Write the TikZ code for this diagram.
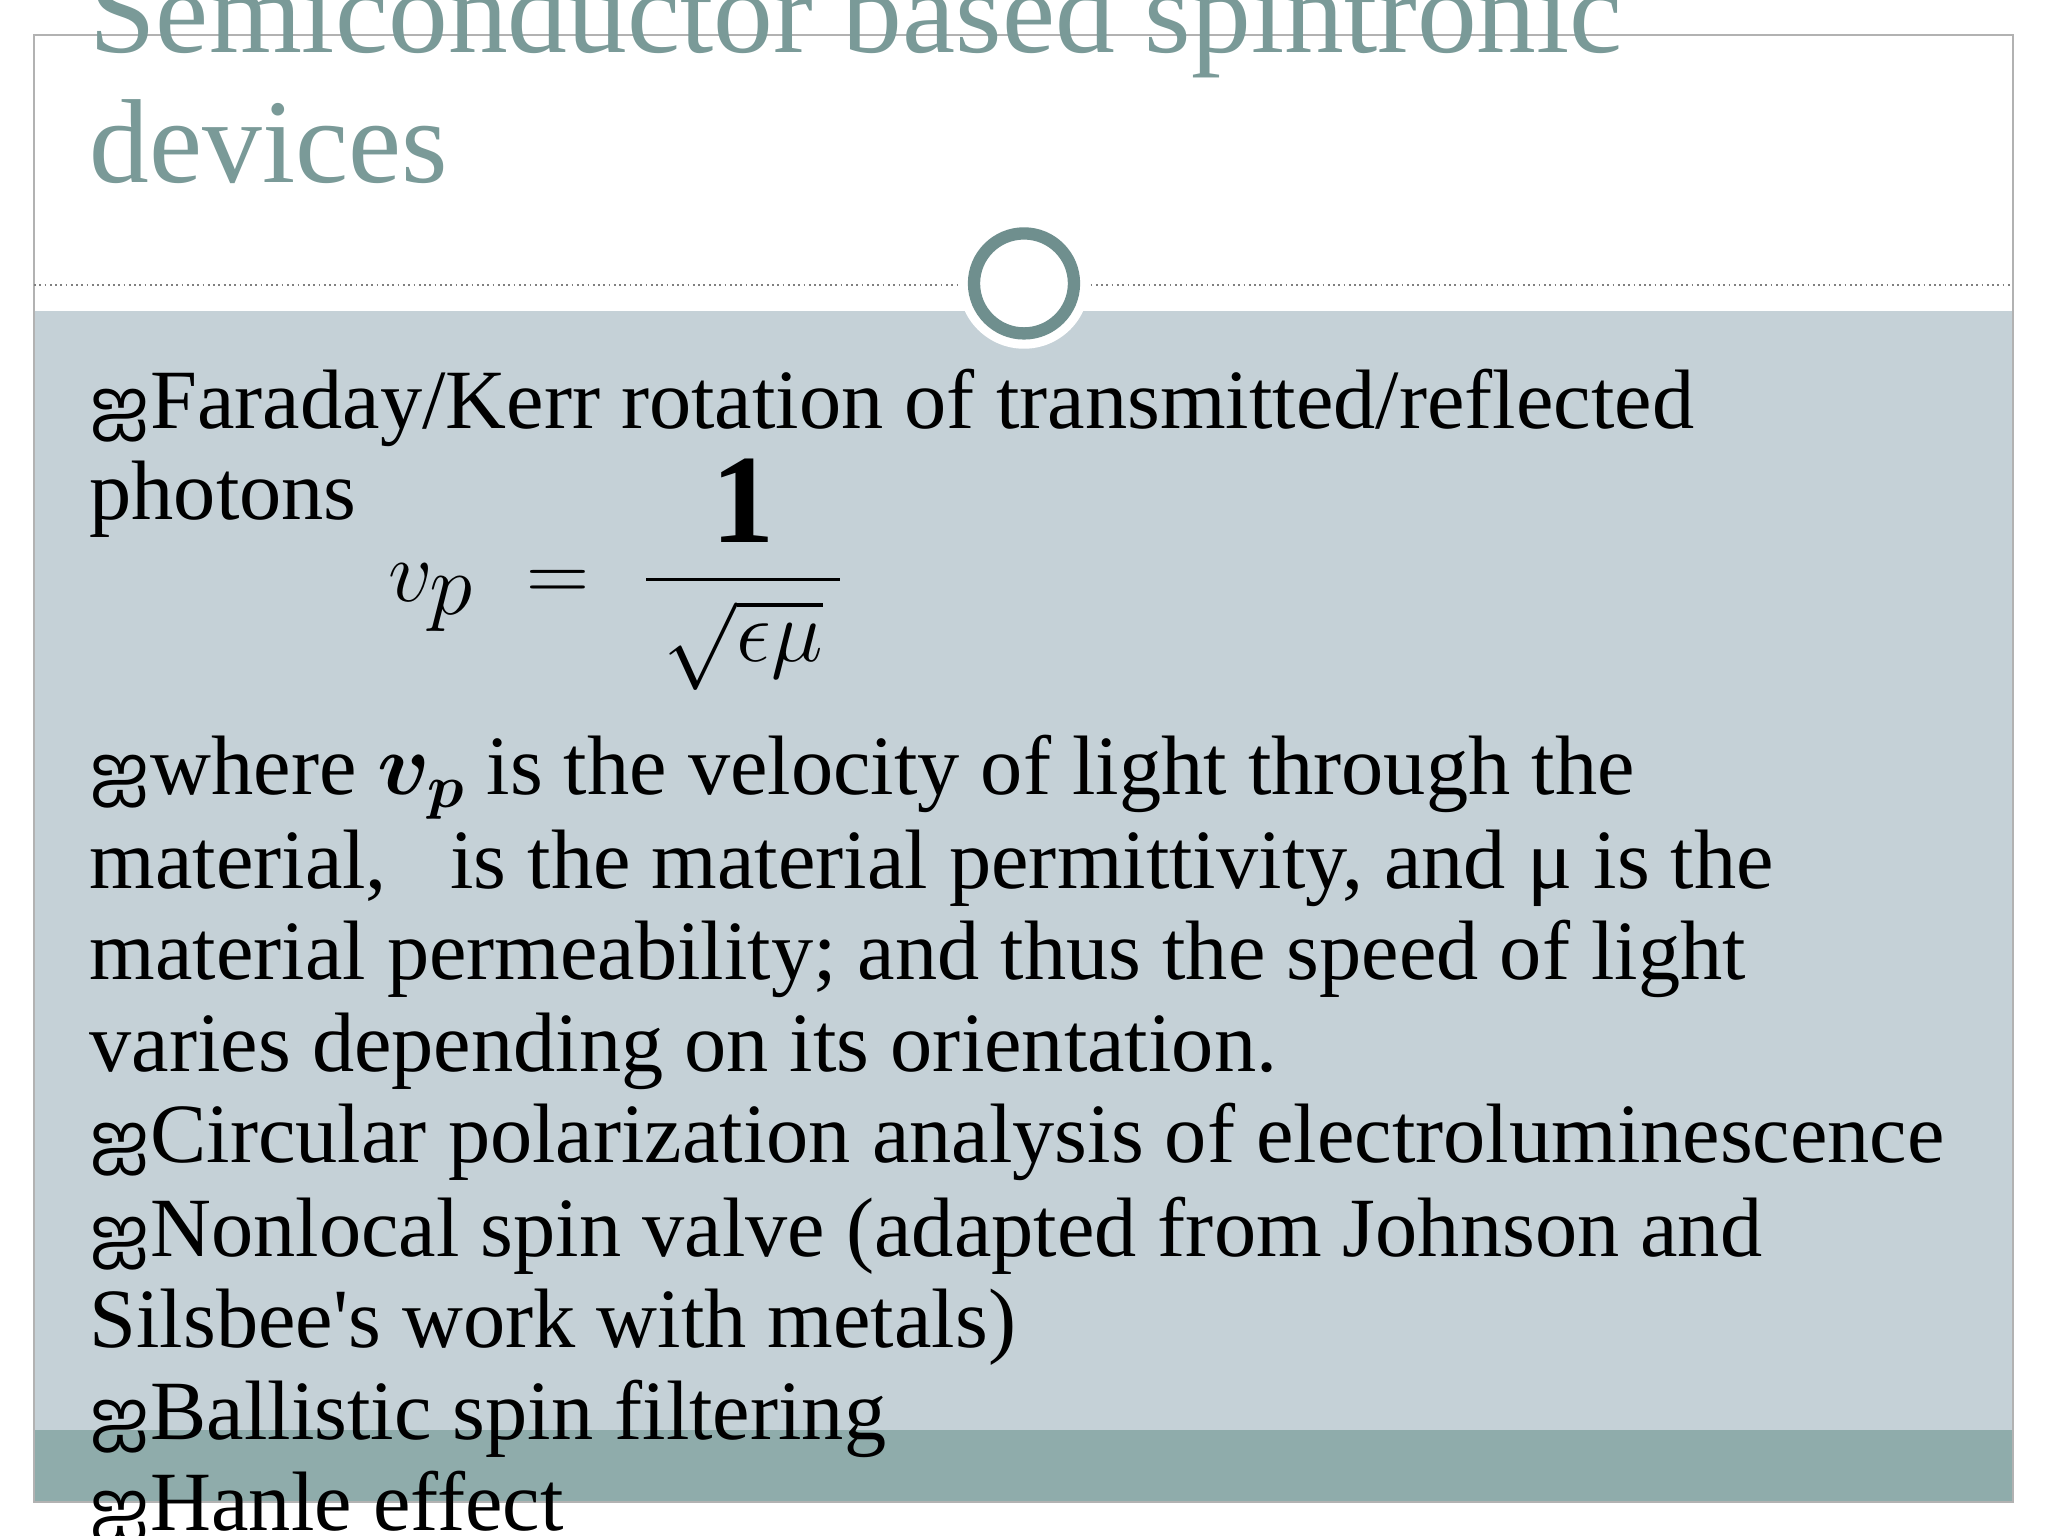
\documentclass[tikz,border=0pt]{standalone}
\usepackage{fontspec}
\usepackage{amsmath}
\usepackage{textcomp}
\setmainfont{Liberation Serif}
\newfontfamily\bulfont[Script=Tamil]{Hind Madurai}
\definecolor{bodybg}{HTML}{C5D1D7}
\definecolor{bandbg}{HTML}{8FACAB}
\definecolor{titlec}{HTML}{7A9A98}
\definecolor{ringc}{HTML}{6F8F8E}
\tikzset{
  body/.style={anchor=base west,inner sep=0pt,font=\fontsize{24}{28}\selectfont},
  ttl/.style={anchor=base west,inner sep=0pt,text=titlec,font=\fontsize{34}{40}\selectfont},
}
\newcommand{\bul}{{\bulfont\fontsize{20}{20}\selectfont ஐ}}
\begin{document}
\begin{tikzpicture}[x=0.01306cm,y=-0.01306cm]
\useasboundingbox (0,0) rectangle (1568,1176);
\fill[white] (0,0) rectangle (1568,1176);
\fill[bodybg] (26,238) rectangle (1541,1095);
\fill[bandbg] (26,1095) rectangle (1541,1150);
\draw[gray!60,line width=0.6pt] (26,27) rectangle (1541,1150);
\draw[gray,densely dotted,line width=0.5pt] (26,218) -- (735,218);
\draw[gray,densely dotted,line width=0.5pt] (835,218) -- (1541,218);
\fill[white] (784,217) circle[radius=50];
\node[circle,draw=ringc,line width=3.5pt,fill=white,minimum size=1.0cm,inner sep=0pt] (ring) at (784,217) {};
\node[ttl] (t1) at (68,40) {Semiconductor based spintronic};
\node[ttl] (t2) at (68,140) {devices};
\node[body] (l1) at (68,328) {\bul Faraday/Kerr rotation of transmitted/reflected};
\node[body] (l2) at (68,398) {photons};
\node[inner sep=0pt] (eq) at (472,440) {\fontsize{36}{42}\selectfont$v_p\hspace{8pt}=\hspace{8pt}\dfrac{\mathbf{1}}{\hspace{5pt}\sqrt{\epsilon\mu}\hspace{5pt}}$};
\node[body] (l3) at (68,608) {\bul where $\boldsymbol{v_p}$ is the velocity of light through the};
\node[body] (l4) at (68,680) {material, \ \ is the material permittivity, and μ is the};
\node[body] (l5) at (68,750) {material permeability; and thus the speed of light};
\node[body] (l6) at (68,820) {varies depending on its orientation.};
\node[body] (l7) at (68,890) {\bul Circular polarization analysis of electroluminescence};
\node[body] (l8) at (68,962) {\bul Nonlocal spin valve (adapted from Johnson and};
\node[body] (l9) at (68,1032) {Silsbee\textquotesingle s work with metals)};
\node[body] (l10) at (68,1102) {\bul Ballistic spin filtering};
\node[body] (l11) at (68,1172) {\bul Hanle effect};
\end{tikzpicture}
\end{document}
